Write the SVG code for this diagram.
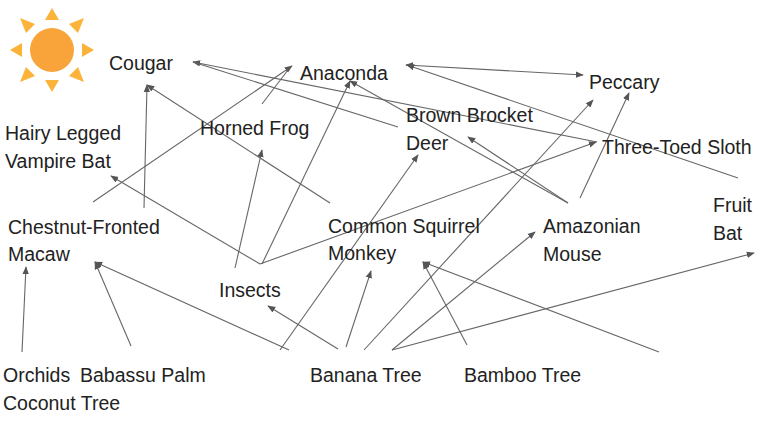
<svg xmlns="http://www.w3.org/2000/svg" width="768" height="433" viewBox="0 0 768 433">
<style>
text{font-family:"Liberation Sans",Arial,sans-serif;font-size:19.5px;fill:#222}
.c line{stroke:#666;stroke-width:1.1;fill:none}
.a{marker-end:url(#ah)}
.b{marker-start:url(#as);marker-end:url(#ah)}
</style>
<defs>
<marker id="ah" viewBox="0 0 10 10" refX="9" refY="5" markerWidth="8" markerHeight="8" markerUnits="userSpaceOnUse" orient="auto"><path d="M0,1 L10,5 L0,9 z" fill="#555"/></marker>
<marker id="as" viewBox="0 0 10 10" refX="1" refY="5" markerWidth="8" markerHeight="8" markerUnits="userSpaceOnUse" orient="auto"><path d="M10,1 L0,5 L10,9 z" fill="#555"/></marker>
</defs>
<rect width="768" height="433" fill="#fff"/>
<g id="sun" fill="#fbb33a">
<circle cx="52" cy="50" r="22" fill="#f9a43a"/>
<polygon points="45,20 59,20 52,8"/><polygon points="45,80 59,80 52,92"/>
<polygon points="22,43 22,57 10,50"/><polygon points="82,43 82,57 94,50"/>
<polygon points="26,33 35,24 20,18"/><polygon points="69,24 78,33 84,18"/>
<polygon points="26,67 35,76 20,82"/><polygon points="69,76 78,67 84,82"/>
</g>
<g class="c">
<line class="a" x1="93" y1="202" x2="292" y2="66"/>
<line x1="262" y1="104" x2="288" y2="70"/>
<line class="a" x1="144" y1="208" x2="147" y2="85"/>
<line class="a" x1="330" y1="203" x2="147" y2="85"/>
<line class="a" x1="260" y1="264" x2="111" y2="176"/>
<line class="a" x1="260" y1="264" x2="596" y2="142"/>
<line class="a" x1="235" y1="268" x2="262" y2="150"/>
<line class="a" x1="262" y1="264" x2="350" y2="81"/>
<line class="a" x1="597" y1="142" x2="193" y2="62"/>
<line x1="398" y1="127" x2="193" y2="62"/>
<line class="a" x1="568" y1="203" x2="350" y2="81"/>
<line class="a" x1="568" y1="203" x2="468" y2="137"/>
<line class="b" x1="406" y1="65" x2="583" y2="75"/>
<line class="a" x1="738" y1="178" x2="407" y2="65"/>
<line class="a" x1="580" y1="198" x2="629" y2="93"/>
<line class="a" x1="22" y1="352" x2="26" y2="267"/>
<line class="a" x1="131" y1="346" x2="95" y2="262"/>
<line class="a" x1="289" y1="350" x2="95" y2="262"/>
<line class="a" x1="280" y1="350" x2="418" y2="155"/>
<line class="a" x1="338" y1="349" x2="268" y2="306"/>
<line class="a" x1="346" y1="347" x2="371" y2="271"/>
<line class="a" x1="364" y1="350" x2="593" y2="100"/>
<line class="a" x1="392" y1="350" x2="535" y2="232"/>
<line class="a" x1="392" y1="350" x2="754" y2="253"/>
<line class="a" x1="467" y1="345" x2="423" y2="262"/>
<line class="a" x1="659" y1="352" x2="423" y2="262"/>
</g>
<g id="cougar"><text x="109" y="70">Cougar</text></g>
<g id="anaconda"><text x="300" y="80">Anaconda</text></g>
<g id="peccary"><text x="589" y="89">Peccary</text></g>
<g id="vampire-bat"><text x="5" y="140">Hairy Legged</text><text x="5" y="168">Vampire Bat</text></g>
<g id="horned-frog"><text x="200" y="135">Horned Frog</text></g>
<g id="deer"><text x="406" y="122">Brown Brocket</text><text x="406" y="150">Deer</text></g>
<g id="sloth"><text x="602" y="154">Three-Toed Sloth</text></g>
<g id="fruit-bat"><text x="713" y="212">Fruit</text><text x="713" y="240">Bat</text></g>
<g id="macaw"><text x="8" y="234">Chestnut-Fronted</text><text x="8" y="261">Macaw</text></g>
<g id="monkey"><text x="328" y="233">Common Squirrel</text><text x="328" y="260">Monkey</text></g>
<g id="mouse"><text x="543" y="233">Amazonian</text><text x="543" y="261">Mouse</text></g>
<g id="insects"><text x="219" y="297">Insects</text></g>
<g id="orchids"><text x="3" y="382">Orchids</text></g>
<g id="babassu"><text x="80" y="382">Babassu Palm</text></g>
<g id="banana"><text x="310" y="382">Banana Tree</text></g>
<g id="bamboo"><text x="464" y="382">Bamboo Tree</text></g>
<g id="coconut"><text x="3" y="410">Coconut Tree</text></g>
</svg>
